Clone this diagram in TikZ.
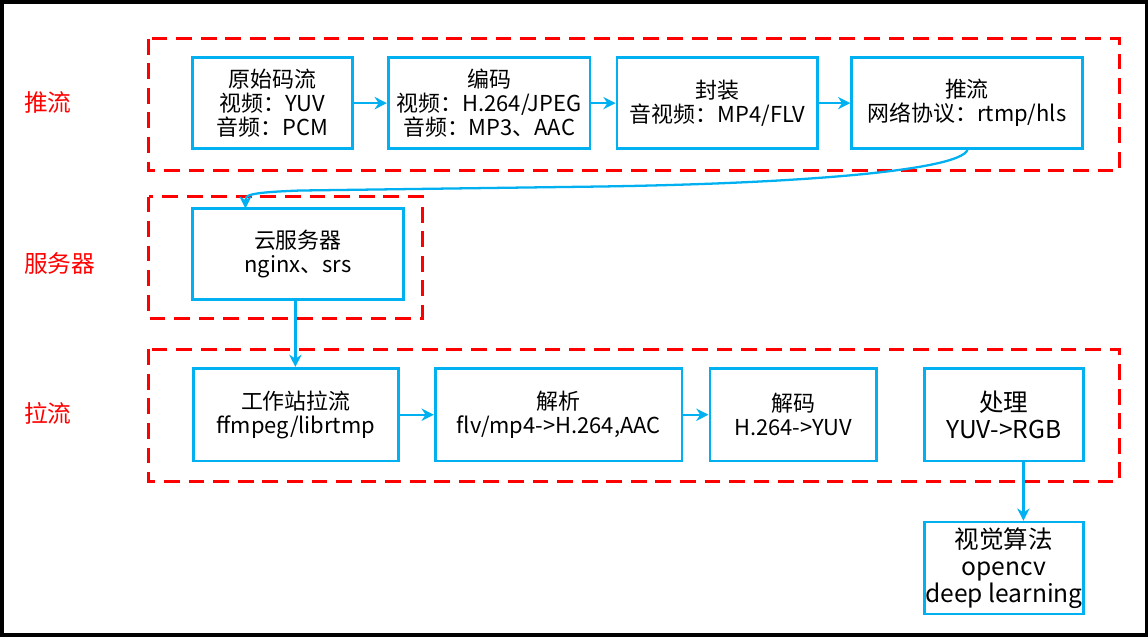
\documentclass[tikz,border=0pt]{standalone}
\usepackage{fontspec}
\setmainfont{Noto Sans CJK SC}
\usetikzlibrary{arrows.meta}
\definecolor{lblue}{RGB}{0,176,240}
\begin{document}
\begin{tikzpicture}[x=0.02cm,y=-0.02cm,
  box/.style={draw=lblue,line width=1.5pt,align=center,font=\fontsize{12.5}{13.5}\selectfont,inner sep=0pt},
  grp/.style={draw=red,line width=1.6pt,dash pattern=on 9pt off 5pt},
  lab/.style={text=red,font=\fontsize{13.5}{15}\selectfont},
  arr/.style={draw=lblue,line width=1.3pt,-{Stealth[length=7pt,width=7pt]}}]
\draw[line width=2pt] (1,1) rectangle (1147,635);
\useasboundingbox (0,0) rectangle (1148,636);
\draw[grp] (148,38) rectangle (1120,170);
\draw[grp] (148,196) rectangle (422,318);
\draw[grp] (148,349) rectangle (1120,481);
\node[lab] (l1) at (47,102) {推流};
\node[lab] (l2) at (59,263) {服务器};
\node[lab] (l3) at (47,413) {拉流};
\newcommand{\bx}[6]{\node[box,minimum width={(#4-#2)*0.02cm},minimum height={(#5-#3)*0.02cm}] (#1) at ({(#2+#4)/2},{(#3+#5)/2}) {#6};}
\bx{a}{192}{57}{352}{148}{原始码流\\视频：YUV\\音频：PCM}
\bx{b}{388}{57}{590}{148}{编码\\视频：H.264/JPEG\\音频：MP3、AAC}
\bx{c}{617}{57}{818}{148}{封装\\音视频：MP4/FLV}
\bx{d}{852}{57}{1083}{148}{推流\\网络协议：rtmp/hls}
\bx{s}{192}{208}{403}{299}{云服务器\\nginx、srs}
\bx{p}{193}{368}{398}{461}{工作站拉流\\ffmpeg/librtmp}
\bx{q}{435}{368}{682}{461}{解析\\flv/mp4->H.264,AAC}
\bx{r}{710}{368}{877}{461}{解码\\H.264->YUV}
\node[box,minimum width=3.18cm,minimum height=1.86cm,font=\fontsize{14}{15.5}\selectfont] (t) at (1004.5,414.5) {处理\\YUV->RGB};
\node[box,minimum width=3.18cm,minimum height=1.84cm,font=\fontsize{14}{15.5}\selectfont] (v) at (1004.5,568) {视觉算法\\opencv\\deep learning};
\draw[arr] (a) -- (b);
\draw[arr] (b) -- (c);
\draw[arr] (c) -- (d);
\draw[arr] (p) -- (q);
\draw[arr] (q) -- (r);
\draw[arr] (d.south -| 968,0) .. controls (960,170) and (800,183) .. (600,186) -- (300,190) .. controls (245,192) and (245,195) .. (245,208);
\draw[arr] (s.south -| 295,0) -- (p.north -| 295,0);
\draw[arr] (t.south -| 1024,0) -- (v.north -| 1024,0);
\end{tikzpicture}
\end{document}
